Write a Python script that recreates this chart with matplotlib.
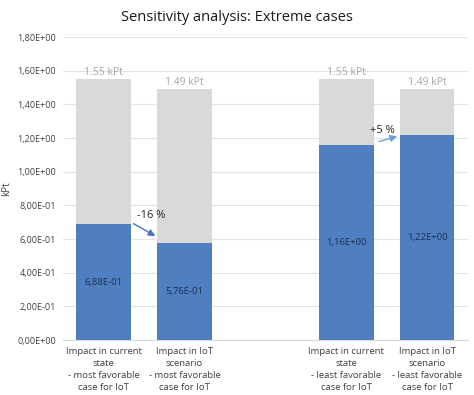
import numpy as np
import matplotlib.pyplot as plt

plt.rcParams['font.family'] = ['Open Sans', 'DejaVu Sans']

categories = ["Impact in current\nstate\n- most favorable\ncase for IoT",
              "Impact in IoT\nscenario\n- most favorable\ncase for IoT",
              "",
              "Impact in current\nstate\n- least favorable\ncase for IoT",
              "Impact in IoT\nscenario\n- least favorable\ncase for IoT"]
totals = [1.55, 1.49, np.nan, 1.55, 1.49]
values = [0.688, 0.576, np.nan, 1.16, 1.22]
value_labels = ["6,88E-01", "5,76E-01", "", "1,16E+00", "1,22E+00"]
total_labels = ["1.55 kPt", "1.49 kPt", "", "1.55 kPt", "1.49 kPt"]
yticks = np.arange(0, 1.81, 0.2)

fig = plt.figure(figsize=(4.74, 3.95), dpi=100)
ax = fig.add_axes([0.133, 0.139, 0.854, 0.767])

x = np.arange(len(categories))
w = 0.67
ax.bar(x, totals, w, color="#d9d9d9", zorder=2)
ax.bar(x, values, w, color="#4f7fc0", zorder=3)

for i in x:
    if not total_labels[i]:
        continue
    ax.text(i, totals[i] + 0.01, total_labels[i], ha="center", va="bottom",
            fontsize=7.5, color="#a6a6a6")
    ax.text(i, values[i] / 2, value_labels[i], ha="center", va="center",
            fontsize=6.8, color="#1f2f4f", zorder=4)

# change arrows
ax.annotate("", xy=(0.67, 0.61), xytext=(0.34, 0.70),
            arrowprops=dict(arrowstyle="-|>", color="#4472c4", lw=1.0), zorder=5)
ax.text(0.59, 0.705, "-16 %", fontsize=8, ha="center", va="bottom", color="#262626")
ax.annotate("", xy=(3.66, 1.215), xytext=(3.37, 1.175),
            arrowprops=dict(arrowstyle="-|>", color="#6a9fd8", lw=1.0), zorder=5)
ax.text(3.45, 1.215, "+5 %", fontsize=8, ha="center", va="bottom", color="#262626")

ax.set_xlim(-0.5, 4.5)
ax.set_ylim(0, 1.8)
ax.set_yticks(yticks)
ax.set_yticklabels([("%.2E" % v).replace(".", ",") for v in yticks],
                   fontsize=6.5, color="#404040")
ax.set_xticks(x)
ax.set_xticklabels(categories, fontsize=6.8, color="#404040", linespacing=1.45)
ax.tick_params(length=0, pad=5)
ax.grid(axis="y", color="#e3e3e3", lw=0.8, zorder=0)
for s in ["top", "right", "left"]:
    ax.spines[s].set_visible(False)
ax.spines["bottom"].set_color("#d9d9d9")
ax.set_ylabel("kPt", fontsize=7, color="#404040")
ax.yaxis.set_label_coords(-0.125, 0.5)
fig.suptitle("Sensitivity analysis: Extreme cases", y=0.975, fontsize=10.5,
             color="#1a1a1a")

plt.savefig("out.png")
